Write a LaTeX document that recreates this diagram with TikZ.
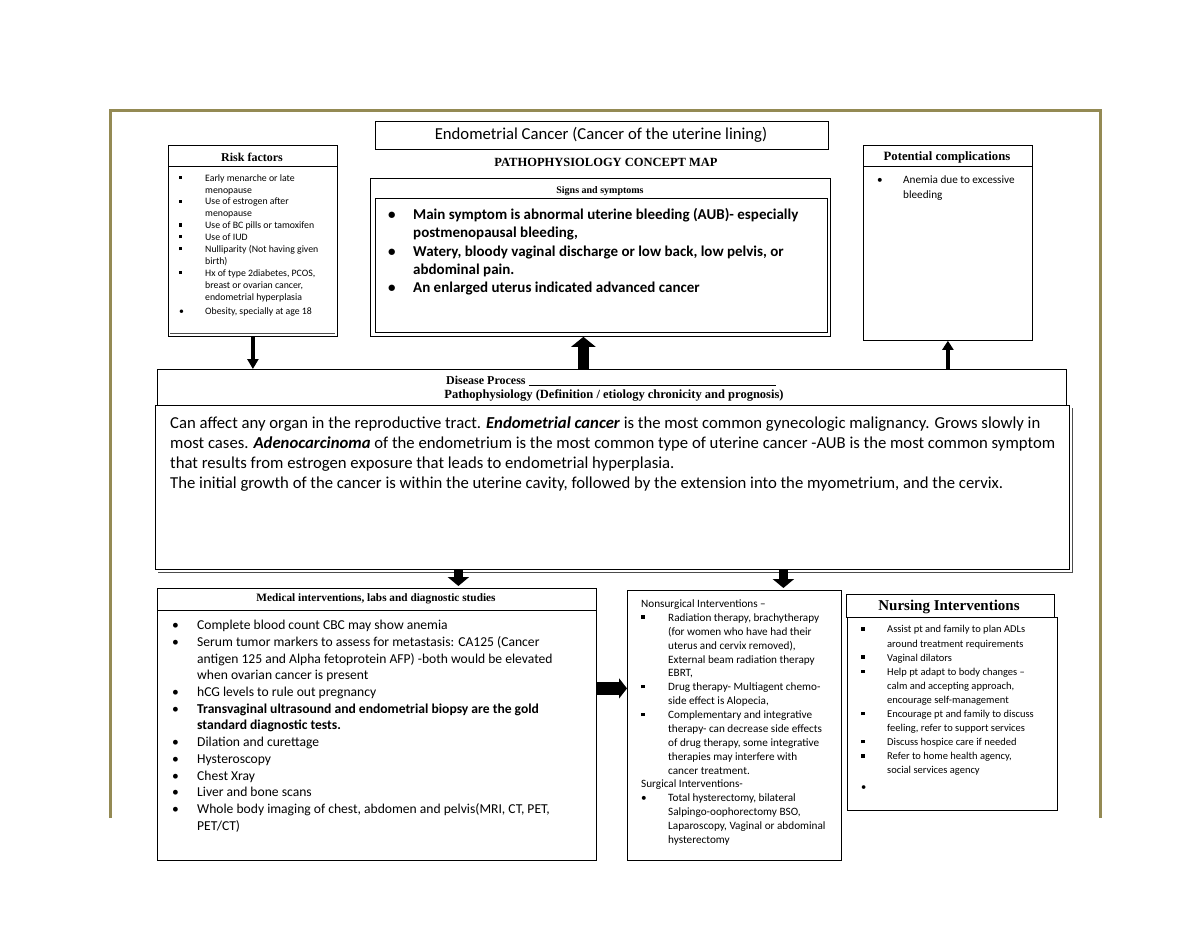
\documentclass[tikz,border=0pt]{standalone}
\usepackage{fontspec}
\setmainfont{Carlito}
\newfontfamily\hdfont{Liberation Serif}
\usetikzlibrary{arrows.meta}
\definecolor{frameolive}{RGB}{148,138,84}
\newlength\bw
\newcommand{\sqb}{\raisebox{0.22em}{\rule{0.32em}{0.32em}}}
\newcommand{\bi}[1]{\makebox[\bw][l]{#1}}
\newcommand{\ci}{\hspace*{\bw}}
\begin{document}
\begin{tikzpicture}[x=1pt,y=-1pt,
  box/.style={draw, line width=0.8pt, inner sep=0pt, anchor=north west},
  hdr/.style={font=\hdfont\bfseries\fontsize{#1}{#1}\selectfont, inner sep=0pt},
  body/.style={anchor=base west, align=left, inner sep=0pt},
  shadowln/.style={draw=black!70, line width=0.8pt}]
\fill[white] (0,0) rectangle (1200,927);
\useasboundingbox (0,0) rectangle (1200,927);
% page frame
\draw[frameolive, line width=3pt] (110,818) -- (110,110) -- (1100,110) -- (1100,818);

% title
\node[box, minimum width=453pt, minimum height=28pt] (title) at (375,121) {};
\node[font=\fontsize{16.7}{18}\selectfont, inner sep=0pt] (titletext) at (601,135) {Endometrial Cancer (Cancer of the uterine lining)};
\node[hdr=12.5] (maptitle) at (606,162) {PATHOPHYSIOLOGY CONCEPT MAP};

% risk factors
\node[box, minimum width=169pt, minimum height=191pt] (risk) at (168,145) {};
\draw (168,166) -- (337,166);
\draw[shadowln] (170,333) -- (335,333);
\node[hdr=12] (riskhd) at (252,157) {Risk factors};
\global\bw=26pt
\node[body, font=\fontsize{9.8}{11.9}\selectfont] (risktext) at (179,314) {%
\bi{\sqb}Early menarche or late\\
\ci menopause\\
\bi{\sqb}Use of estrogen after\\
\ci menopause\\
\bi{\sqb}Use of BC pills or tamoxifen\\
\bi{\sqb}Use of IUD\\
\bi{\sqb}Nulliparity (Not having given\\
\ci birth)\\
\bi{\sqb}Hx of type 2diabetes, PCOS,\\
\ci breast or ovarian cancer,\\
\ci endometrial hyperplasia\\[2pt]
\bi{\textbullet}Obesity, specially at age 18};

% signs and symptoms
\node[box, minimum width=460pt, minimum height=158pt] (signs) at (370,178) {};
\draw (375,198) rectangle (827,332);
\node[hdr=10] (signshd) at (600,191) {Signs and symptoms};
\global\bw=25pt
\node[body, font=\bfseries\fontsize{15}{18.25}\selectfont] (signstext) at (388,292.5) {%
\bi{\textbullet}Main symptom is abnormal uterine bleeding (AUB)- especially\\
\ci postmenopausal bleeding,\\
\bi{\textbullet}Watery, bloody vaginal discharge or low back, low pelvis, or\\
\ci abdominal pain.\\
\bi{\textbullet}An enlarged uterus indicated advanced cancer};

% potential complications
\node[box, minimum width=169pt, minimum height=195pt] (comp) at (863,145) {};
\draw (863,166) -- (1032,166);
\node[hdr=12.7] (comphd) at (947,157) {Potential complications};
\global\bw=26pt
\node[body, font=\fontsize{11.2}{15}\selectfont] (comptext) at (877,198.5) {%
\bi{\textbullet}Anemia due to excessive\\
\ci bleeding};

% disease process
\node[box, minimum width=909pt, minimum height=36pt] (dish) at (157,369) {};
\node[font=\hdfont\bfseries\fontsize{12}{12}\selectfont, inner sep=0pt, anchor=west] (dishd1) at (446,381) {Disease Process \underline{\hspace{247pt}}};
\node[font=\hdfont\bfseries\fontsize{12.5}{12.5}\selectfont, inner sep=0pt] (dishd2) at (614,395) {Pathophysiology (Definition / etiology chronicity and prognosis)};
\node[box, minimum width=914pt, minimum height=164pt] (disb) at (155,405) {};
\draw[shadowln] (158,572) -- (1072,572) -- (1072,408);
\node[body, font=\fontsize{16.7}{20}\selectfont] (distext) at (170,488) {%
Can affect any organ in the reproductive tract. \textbf{\textit{Endometrial cancer}} is the most common gynecologic malignancy. Grows slowly in\\
most cases. \textbf{\textit{Adenocarcinoma}} of the endometrium is the most common type of uterine cancer -AUB is the most common symptom\\
that results from estrogen exposure that leads to endometrial hyperplasia.\\
The initial growth of the cancer is within the uterine cavity, followed by the extension into the myometrium, and the cervix.};

% medical interventions
\node[box, minimum width=439pt, minimum height=272pt] (med) at (157,588) {};
\draw (157,610) -- (596,610);
\node[hdr=11.3] (medhd) at (376,599) {Medical interventions, labs and diagnostic studies};
\global\bw=25pt
\node[body, font=\fontsize{13.6}{16.67}\selectfont] (medtext) at (172,830) {%
\bi{\textbullet}Complete blood count CBC may show anemia\\
\bi{\textbullet}Serum tumor markers to assess for metastasis: CA125 (Cancer\\
\ci antigen 125 and Alpha fetoprotein AFP) -both would be elevated\\
\ci when ovarian cancer is present\\
\bi{\textbullet}hCG levels to rule out pregnancy\\
\bi{\textbullet}\textbf{Transvaginal ultrasound and endometrial biopsy are the gold}\\
\ci\textbf{standard diagnostic tests.}\\
\bi{\textbullet}Dilation and curettage\\
\bi{\textbullet}Hysteroscopy\\
\bi{\textbullet}Chest Xray\\
\bi{\textbullet}Liver and bone scans\\
\bi{\textbullet}Whole body imaging of chest, abdomen and pelvis(MRI, CT, PET,\\
\ci PET/CT)};

% nonsurgical interventions
\node[box, minimum width=214pt, minimum height=270pt] (nonsurg) at (627,590) {};
\global\bw=27pt
\node[body, font=\fontsize{11.2}{13.88}\selectfont] (nonsurgtext) at (641,843.5) {%
Nonsurgical Interventions –\\
\bi{\sqb}Radiation therapy, brachytherapy\\
\ci(for women who have had their\\
\ci uterus and cervix removed),\\
\ci External beam radiation therapy\\
\ci EBRT,\\
\bi{\sqb}Drug therapy- Multiagent chemo-\\
\ci side effect is Alopecia,\\
\bi{\sqb}Complementary and integrative\\
\ci therapy- can decrease side effects\\
\ci of drug therapy, some integrative\\
\ci therapies may interfere with\\
\ci cancer treatment.\\
Surgical Interventions-\\
\bi{\textbullet}Total hysterectomy, bilateral\\
\ci Salpingo-oophorectomy BSO,\\
\ci Laparoscopy, Vaginal or abdominal\\
\ci hysterectomy};

% nursing interventions
\node[box, minimum width=208pt, minimum height=23pt] (nurhd) at (846,594) {};
\node[hdr=15] (nurhdtext) at (949,607) {Nursing Interventions};
\node[box, minimum width=210pt, minimum height=193pt] (nur) at (847,617) {};
\global\bw=26pt
\node[body, font=\fontsize{10.5}{14.1}\selectfont] (nurtext) at (861,790) {%
\bi{\sqb}Assist pt and family to plan ADLs\\
\ci around treatment requirements\\
\bi{\sqb}Vaginal dilators\\
\bi{\sqb}Help pt adapt to body changes –\\
\ci calm and accepting approach,\\
\ci encourage self-management\\
\bi{\sqb}Encourage pt and family to discuss\\
\ci feeling, refer to support services\\
\bi{\sqb}Discuss hospice care if needed\\
\bi{\sqb}Refer to home health agency,\\
\ci social services agency\\[2pt]
\bi{\textbullet}\strut};

% arrows
\draw[line width=3.5pt, -{Triangle[width=11pt,length=10pt]}] (risk.south) -- (risk.south |- dish.north);
\draw[line width=11pt, -{Triangle[width=24pt,length=10pt]}] ([xshift=-17pt]signs.south |- dish.north) -- ([xshift=-17pt]signs.south);
\draw[line width=4pt, -{Triangle[width=11pt,length=9pt]}] (comp.south |- dish.north) -- (comp.south);
\draw[line width=9pt, -{Triangle[width=21pt,length=9pt]}, shorten >=2pt] ([xshift=81.5pt]med.north |- disb.south) -- ([xshift=81.5pt]med.north);
\draw[line width=9pt, -{Triangle[width=21pt,length=9pt]}, shorten >=2pt] ([xshift=49pt]nonsurg.north |- disb.south) -- ([xshift=49pt]nonsurg.north);
\draw[line width=13pt, -{Triangle[width=20pt,length=8pt]}] ([yshift=36pt]med.east) -- ([yshift=36pt]med.east -| nonsurg.west);
\end{tikzpicture}
\end{document}
